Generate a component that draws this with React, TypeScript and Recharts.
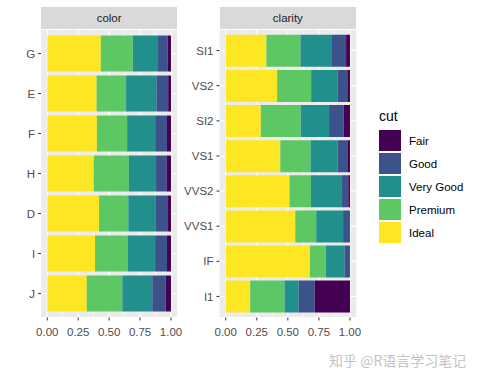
import React from "react";
import { BarChart, Bar, XAxis, YAxis, CartesianGrid } from "recharts";

// ---- data (proportions of cut within each level) ----
const colorCats = ["G", "E", "F", "H", "D", "I", "J"];
const colorIdeal = [0.4325, 0.3984, 0.401, 0.3751, 0.4183, 0.386, 0.3191];
const colorPremium = [0.2589, 0.2385, 0.2443, 0.2842, 0.2366, 0.2634, 0.2877];
const colorVeryGood = [0.2036, 0.245, 0.2268, 0.2197, 0.2233, 0.2221, 0.2415];
const colorGood = [0.0771, 0.0952, 0.0953, 0.0845, 0.0977, 0.0963, 0.1093];
const colorFair = [0.0278, 0.0229, 0.0327, 0.0365, 0.0241, 0.0323, 0.0424];

const clarityCats = ["SI1", "VS2", "SI2", "VS1", "VVS2", "VVS1", "IF", "I1"];
const clarityIdeal = [0.3277, 0.4137, 0.2826, 0.4392, 0.5144, 0.5601, 0.6771, 0.197];
const clarityPremium = [0.2736, 0.2739, 0.3208, 0.2434, 0.1717, 0.1685, 0.1285, 0.2767];
const clarityVeryGood = [0.248, 0.2114, 0.2284, 0.2172, 0.2438, 0.2159, 0.1497, 0.1134];
const clarityGood = [0.1194, 0.0798, 0.1176, 0.0793, 0.0565, 0.0509, 0.0397, 0.1296];
const clarityFair = [0.0312, 0.0213, 0.0507, 0.0208, 0.0136, 0.0047, 0.005, 0.2834];

const cutNames = ["Fair", "Good", "Very Good", "Premium", "Ideal"];
const cutColors: Record<string, string> = {
  Fair: "#440154",
  Good: "#3B528B",
  "Very Good": "#21908C",
  Premium: "#5DC863",
  Ideal: "#FDE725",
};
const xTicks = [0, 0.25, 0.5, 0.75, 1];
const xMinor = [0.125, 0.375, 0.625, 0.875];

const build = (cats: string[], ideal: number[], prem: number[], vg: number[], good: number[], fair: number[]) =>
  cats.map((name, i) => ({
    name,
    Ideal: ideal[i],
    Premium: prem[i],
    "Very Good": vg[i],
    Good: good[i],
    Fair: fair[i],
  }));

const colorData = build(colorCats, colorIdeal, colorPremium, colorVeryGood, colorGood, colorFair);
const clarityData = build(clarityCats, clarityIdeal, clarityPremium, clarityVeryGood, clarityGood, clarityFair);

const FONT = "'Liberation Sans', Arial, sans-serif";
const stackOrder = ["Ideal", "Premium", "Very Good", "Good", "Fair"];

function Panel(props: {
  data: any[];
  left: number;
  plotRight: number;
  yAxisWidth: number;
  pad: number;
}) {
  const { data, left, plotRight, yAxisWidth, pad } = props;
  const width = plotRight + 16;
  return (
    <div style={{ position: "absolute", left, top: 0 }}>
      <BarChart
        width={width}
        height={345}
        data={data}
        layout="vertical"
        margin={{ top: 29.5, right: 16, left: 0, bottom: 0 }}
        barCategoryGap="5%"
      >
        <CartesianGrid
          fill="#EBEBEB"
          stroke="#FFFFFF"
          strokeWidth={1.1}
          verticalValues={xTicks}
          horizontal={true}
          vertical={true}
        />
        <CartesianGrid
          stroke="#FFFFFF"
          strokeWidth={0.55}
          horizontal={false}
          verticalValues={xMinor}
        />
        <XAxis
          type="number"
          domain={[-0.05, 1.05]}
          allowDataOverflow
          ticks={xTicks}
          tickFormatter={(v: number) => v.toFixed(2)}
          axisLine={false}
          tickLine={{ stroke: "#333333" }}
          tickSize={3}
          tickMargin={7}
          height={27.5}
          interval={0}
          tick={{ fill: "#4D4D4D", fontSize: 11.5, fontFamily: FONT }}
        />
        <YAxis
          type="category"
          dataKey="name"
          width={yAxisWidth}
          axisLine={false}
          tickLine={{ stroke: "#333333" }}
          tickSize={3}
          tickMargin={3}
          interval={0}
          padding={{ top: pad, bottom: pad }}
          tick={{ fill: "#4D4D4D", fontSize: 11.5, fontFamily: FONT }}
        />
        {stackOrder.map((k) => (
          <Bar key={k} dataKey={k} stackId="a" fill={cutColors[k]} isAnimationActive={false} />
        ))}
      </BarChart>
    </div>
  );
}

function Strip(props: { left: number; width: number; label: string }) {
  return (
    <div
      style={{
        position: "absolute",
        left: props.left,
        top: 7.3,
        width: props.width,
        height: 22.2,
        background: "#D9D9D9",
        color: "#1A1A1A",
        fontFamily: FONT,
        fontSize: 11.5,
        display: "flex",
        alignItems: "center",
        justifyContent: "center",
      }}
    >
      {props.label}
    </div>
  );
}

export default function App() {
  return (
    <div
      style={{
        position: "absolute",
        left: 0,
        top: 0,
        width: 480,
        height: 384,
        background: "#FFFFFF",
        overflow: "hidden",
      }}
    >
      <Panel data={colorData} left={0} plotRight={177.2} yAxisWidth={41.1} pad={4} />
      <Panel data={clarityData} left={180} plotRight={176.2} yAxisWidth={39.5} pad={3.5} />
      <Strip left={41.1} width={136.1} label="color" />
      <Strip left={219.5} width={136.7} label="clarity" />

      {/* legend */}
      <div
        style={{
          position: "absolute",
          left: 379,
          top: 108,
          fontFamily: FONT,
          fontSize: 14,
          color: "#000000",
          lineHeight: "17px",
        }}
      >
        cut
      </div>
      {cutNames.map((n, i) => (
        <React.Fragment key={n}>
          <div
            style={{
              position: "absolute",
              left: 379,
              top: 130 + i * 23,
              width: 22,
              height: 21,
              background: cutColors[n],
            }}
          />
          <div
            style={{
              position: "absolute",
              left: 409,
              top: 130 + i * 23,
              height: 21,
              display: "flex",
              alignItems: "center",
              fontFamily: FONT,
              fontSize: 11.5,
              color: "#000000",
              whiteSpace: "nowrap",
            }}
          >
            {n}
          </div>
        </React.Fragment>
      ))}

      {/* watermark */}
      <div
        style={{
          position: "absolute",
          left: 329,
          top: 351,
          fontFamily: "'Noto Sans CJK SC', sans-serif",
          fontSize: 14,
          lineHeight: "18px",
          color: "#C4C4C4",
          whiteSpace: "nowrap",
        }}
      >
        知乎 @R语言学习笔记
      </div>
    </div>
  );
}
